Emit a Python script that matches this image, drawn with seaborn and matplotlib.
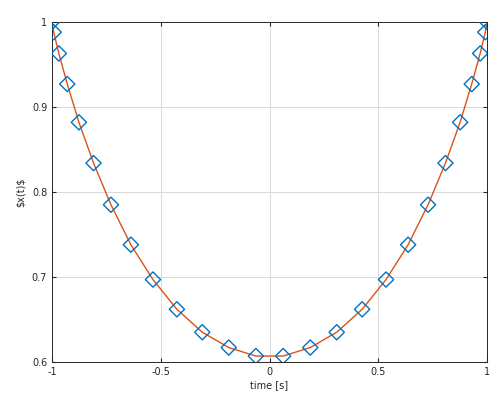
import numpy as np
import pandas as pd
import matplotlib
matplotlib.use("Agg")
import matplotlib.pyplot as plt
import seaborn as sns

# half of the nodes (t >= 0), mirrored below
t_half = [1.0, 0.9921, 0.9686, 0.9298, 0.8763, 0.8090, 0.7290, 0.6374,
          0.5358, 0.4258, 0.3090, 0.1874, 0.0628]
x_half = [1.0, 0.988, 0.963, 0.927, 0.882, 0.834, 0.785, 0.738,
          0.697, 0.662, 0.635, 0.617, 0.607]

t_vals = [-v for v in t_half] + t_half[::-1]
x_vals = x_half + x_half[::-1]
df = pd.DataFrame({"t": t_vals, "x": x_vals})

sns.set_style("white")
plt.rcParams["font.family"] = ["DejaVu Sans"]
fig = plt.figure(figsize=(5.04, 4.03), dpi=100)
ax = fig.add_axes([52/504, 41/403, 435/504, 340/403])

sns.lineplot(data=df, x="t", y="x", ax=ax, color="#d95319", linewidth=1, sort=False)
sns.scatterplot(data=df, x="t", y="x", ax=ax, marker="D", s=60,
                facecolor="none", edgecolor="#0072bd", linewidth=1, zorder=3)

ax.set_xlim(-1, 1)
ax.set_ylim(0.6, 1)
ax.set_xticks([-1, -0.5, 0, 0.5, 1])
ax.set_xticklabels(["-1", "-0.5", "0", "0.5", "1"])
ax.set_yticks([0.6, 0.7, 0.8, 0.9, 1])
ax.set_yticklabels(["0.6", "0.7", "0.8", "0.9", "1"])
ax.grid(True, color="#d9d9d9", linewidth=0.7)
ax.tick_params(labelsize=7, direction="in", length=3, left=True, bottom=True, top=True, right=True)
for s in ax.spines.values():
    s.set_color("#262626")
    s.set_linewidth(0.7)
ax.set_xlabel("time [s]", fontsize=7, labelpad=2)
ax.set_ylabel("\\$x(t)\\$", fontsize=7, labelpad=4)

fig.savefig("out.png", dpi=100)
